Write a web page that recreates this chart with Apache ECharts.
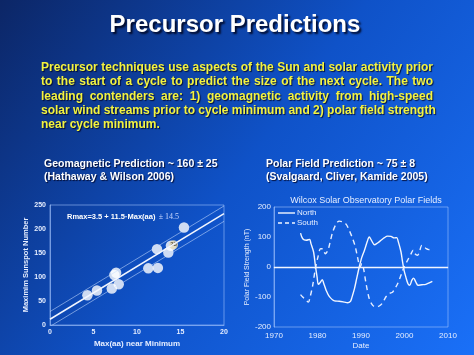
<!DOCTYPE html>
<html>
<head>
<meta charset="utf-8">
<script src="https://cdn.jsdelivr.net/npm/echarts@6/dist/echarts.min.js"></script>
<style>
  html, body { margin: 0; padding: 0; }
  #wrap { position: relative; width: 474px; height: 355px; overflow: hidden; font-family: "Liberation Sans", Arial, sans-serif; }
  #chart { position: absolute; left: 0; top: 0; width: 474px; height: 355px; }
  .txt { position: absolute; pointer-events: none; }
  #title { left: 0; width: 470px; top: 10px; text-align: center; color: #fff; font-weight: bold; font-size: 24px; text-shadow: 2px 2px 2px rgba(0,0,20,0.85); }
  #para { left: 41px; top: 60px; width: 392px; color: #f3f33f; font-weight: bold; font-size: 12px; line-height: 14.3px; text-shadow: 1px 1px 1px rgba(0,0,30,0.8); }
  #para div { text-align: justify; text-align-last: justify; white-space: nowrap; }
  #para div.last { text-align-last: left; }
  .sub { color: #fff; font-weight: bold; font-size: 10.5px; line-height: 12.5px; text-shadow: 1px 1px 1px rgba(0,0,30,0.8); }
</style>
</head>
<body>
<div id="wrap">
  <div id="chart"></div>
  <div class="txt" id="title">Precursor Predictions</div>
  <div class="txt" id="para">
    <div>Precursor techniques use aspects of the Sun and solar activity prior</div>
    <div>to the start of a cycle to predict the size of the next cycle. The two</div>
    <div>leading contenders are: 1) geomagnetic activity from high-speed</div>
    <div>solar wind streams prior to cycle minimum and 2) polar field strength</div>
    <div class="last">near cycle minimum.</div>
  </div>
  <div class="txt sub" style="left:44px; top:157px;">Geomagnetic Prediction ~ 160 ± 25<br>(Hathaway &amp; Wilson 2006)</div>
  <div class="txt sub" style="left:266px; top:157px;">Polar Field Prediction ~ 75 ± 8<br>(Svalgaard, Cliver, Kamide 2005)</div>
</div>
<script>
// left panel: max aa near minimum vs maximum sunspot number
var aaMax = [4.3, 5.4, 7.1, 7.4, 7.6, 7.9, 11.3, 12.4, 12.3, 13.6, 13.9, 15.4];
var rMax = [62, 72, 76, 104, 109, 85, 118, 119, 158, 151, 165, 203];
var cycle23 = [14.2, 167];
var fitX = [0, 20];
var fitY = [12, 232];
var upperY = [28, 248];
var lowerY = [-3, 216];

// right panel: WSO polar fields
var northYears = [1976.1, 1976.6, 1977.4, 1978.2, 1978.5, 1979.1, 1979.5, 1979.9, 1980.2, 1980.7, 1981.1, 1981.4, 1982.0, 1982.7, 1983.9, 1985.0, 1986.2, 1986.9, 1987.6, 1987.9, 1988.5, 1989.0, 1989.6, 1990.2, 1990.8, 1991.4, 1991.9, 1992.4, 1993.1, 1993.8, 1994.6, 1995.3, 1996.1, 1996.9, 1997.6, 1998.2, 1998.6, 1999.2, 1999.5, 1999.9, 2000.3, 2000.8, 2001.2, 2001.7, 2002.1, 2002.6, 2003.1, 2004.0, 2004.9, 2005.8, 2006.4];
var northField = [113, 94, 89, 92, 78, 50, 6, -33, -58, -50, -42, -53, -78, -98, -113, -114, -117, -119, -114, -102, -72, -39, 0, 33, 56, 83, 100, 89, 74, 80, 89, 97, 103, 102, 97, 98, 83, 50, 22, -11, -33, -56, -61, -44, -37, -50, -61, -59, -58, -52, -48];
var southYears = [1976.1, 1976.6, 1977.4, 1977.9, 1978.3, 1978.9, 1979.5, 1980.1, 1980.7, 1981.2, 1981.8, 1982.4, 1982.9, 1983.5, 1984.3, 1985.0, 1985.8, 1986.6, 1987.3, 1988.1, 1988.7, 1989.2, 1989.8, 1990.2, 1990.6, 1991.1, 1991.9, 1992.7, 1993.4, 1994.2, 1995.0, 1995.7, 1996.5, 1997.3, 1998.0, 1998.6, 1999.4, 1999.9, 2000.7, 2001.5, 2002.0, 2002.4, 2003.0, 2003.4, 2004.0, 2004.5, 2005.0, 2005.6, 2006.1];
var southField = [-92, -100, -111, -117, -100, -61, -6, 33, 61, 61, 44, 56, 83, 117, 144, 153, 150, 142, 122, 94, 67, 33, 0, 11, -6, -50, -106, -128, -133, -130, -119, -100, -89, -83, -67, -50, -19, 0, 22, 44, 56, 44, 39, 50, 72, 69, 61, 58, 61];
var yearRange = [1970, 2010];

function pairs(xs, ys) {
  return xs.map(function(x, i) { return [x, ys[i]]; });
}

var font = '"Liberation Sans", Arial, sans-serif';
var labelCol = '#e6eeff';
var lineCol = '#f2f6ff';
var frameCol = 'rgba(170,200,255,0.55)';

var chart = echarts.init(document.getElementById('chart'), null, { renderer: 'canvas' });
chart.setOption({
  animation: false,
  backgroundColor: new echarts.graphic.LinearGradient(0, 0, 1, 1, [
    { offset: 0, color: '#0c2666' },
    { offset: 0.5, color: '#0f52c8' },
    { offset: 1, color: '#1a70f8' }
  ]),
  textStyle: { fontFamily: font },
  title: [{
    text: 'Wilcox Solar Observatory Polar Fields',
    left: 361, top: 191, textAlign: 'center',
    textStyle: { color: labelCol, fontSize: 9, fontWeight: 'normal', fontFamily: 'Liberation Sans' }
  }],
  graphic: [{
    type: 'text', left: 67, top: 211,
    style: {
      text: '{a|Rmax=3.5 + 11.5·Max(aa)} {b|± 14.5}',
      rich: {
        a: { fill: '#fff', fontSize: 7.5, fontWeight: 'bold', fontFamily: font },
        b: { fill: '#c9d8ff', fontSize: 8, fontFamily: '"Liberation Serif", "DejaVu Serif", serif' }
      }
    }
  }, {
    // legend, drawn by hand so the South key stays dashed
    type: 'line', shape: { x1: 278, y1: 213, x2: 295, y2: 213 },
    style: { stroke: lineCol, lineWidth: 1.4 }
  }, {
    type: 'text', left: 297, top: 209,
    style: { text: 'North', fill: labelCol, fontSize: 8, fontFamily: font }
  }, {
    type: 'line', shape: { x1: 278, y1: 223, x2: 295, y2: 223 },
    style: { stroke: lineCol, lineWidth: 1.4, lineDash: [4, 3] }
  }, {
    type: 'text', left: 297, top: 219,
    style: { text: 'South', fill: labelCol, fontSize: 8, fontFamily: font }
  }],
  grid: [
    { left: 50, right: 250, top: 205, bottom: 30, show: true, borderColor: frameCol, borderWidth: 1, backgroundColor: 'transparent' },
    { left: 274, right: 26, top: 207, bottom: 28, show: true, borderColor: frameCol, borderWidth: 1, backgroundColor: 'transparent' }
  ],
  xAxis: [{
    gridIndex: 0, type: 'value', min: 0, max: 20, interval: 5,
    name: 'Max(aa) near Minimum', nameLocation: 'middle', nameGap: 15,
    nameTextStyle: { color: labelCol, fontSize: 8, fontWeight: 'bold', fontFamily: font },
    axisLine: { show: true, lineStyle: { color: frameCol } },
    axisTick: { show: false }, splitLine: { show: false },
    axisLabel: { color: labelCol, fontSize: 7, fontWeight: 'bold', margin: 4, fontFamily: font }
  }, {
    gridIndex: 1, type: 'value', min: yearRange[0], max: yearRange[1], interval: 10,
    name: 'Date', nameLocation: 'middle', nameGap: 15,
    nameTextStyle: { color: labelCol, fontSize: 8, fontFamily: font },
    axisLine: { show: true, lineStyle: { color: frameCol } },
    axisTick: { show: false }, splitLine: { show: false },
    axisLabel: { color: labelCol, fontSize: 8, margin: 5, fontFamily: font, formatter: function(v) { return String(v); } }
  }],
  yAxis: [{
    gridIndex: 0, type: 'value', min: 0, max: 250, interval: 50,
    name: 'Maximim Sunspot Number', nameLocation: 'middle', nameGap: 20, nameRotate: 90,
    nameTextStyle: { color: labelCol, fontSize: 7.5, fontWeight: 'bold', fontFamily: font },
    axisLine: { show: true, lineStyle: { color: frameCol } },
    axisTick: { show: false }, splitLine: { show: false },
    axisLabel: { color: labelCol, fontSize: 7, fontWeight: 'bold', margin: 4, fontFamily: font }
  }, {
    gridIndex: 1, type: 'value', min: -200, max: 200, interval: 100,
    name: 'Polar Field Strength (nT)', nameLocation: 'middle', nameGap: 23, nameRotate: 90,
    nameTextStyle: { color: labelCol, fontSize: 7, fontFamily: font },
    axisLine: { show: true, lineStyle: { color: frameCol } },
    axisTick: { show: false }, splitLine: { show: false },
    axisLabel: { color: labelCol, fontSize: 8, margin: 3, fontFamily: font }
  }],
  series: [{
    type: 'line', xAxisIndex: 0, yAxisIndex: 0, clip: true,
    data: pairs(fitX, upperY), symbol: 'none',
    lineStyle: { color: 'rgba(200,220,255,0.7)', width: 0.8 }
  }, {
    type: 'line', xAxisIndex: 0, yAxisIndex: 0, clip: true,
    data: pairs(fitX, lowerY), symbol: 'none',
    lineStyle: { color: 'rgba(200,220,255,0.7)', width: 0.8 }
  }, {
    type: 'line', xAxisIndex: 0, yAxisIndex: 0, clip: true,
    data: pairs(fitX, fitY), symbol: 'none',
    lineStyle: { color: lineCol, width: 1.5 }
  }, {
    type: 'scatter', xAxisIndex: 0, yAxisIndex: 0,
    data: pairs(aaMax, rMax), symbolSize: 10.5,
    itemStyle: { color: '#ffffff' }
  }, {
    type: 'scatter', xAxisIndex: 0, yAxisIndex: 0,
    data: [cycle23], symbolSize: 9,
    itemStyle: { color: '#e9dfb8' },
    label: { show: true, position: 'inside', formatter: '23', fontSize: 6, fontWeight: 'bold', color: '#3a3020' }
  }, {
    name: 'North', type: 'line', xAxisIndex: 1, yAxisIndex: 1,
    data: pairs(northYears, northField), symbol: 'none', smooth: 0.3,
    lineStyle: { color: lineCol, width: 1.4 },
    markLine: {
      silent: true, symbol: 'none', label: { show: false },
      lineStyle: { color: lineCol, width: 1.4, type: 'solid' },
      data: [{ yAxis: 0 }]
    }
  }, {
    name: 'South', type: 'line', xAxisIndex: 1, yAxisIndex: 1,
    data: pairs(southYears, southField), symbol: 'none', smooth: 0.3,
    lineStyle: { color: '#e6eeff', width: 1.4, type: [5, 4] }
  }]
});
</script>
</body>
</html>
